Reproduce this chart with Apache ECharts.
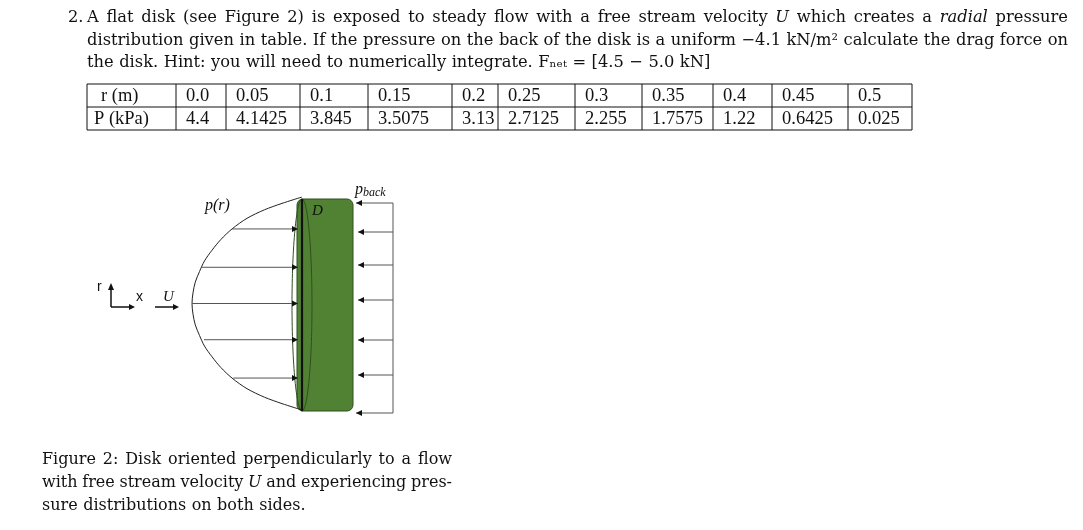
<!DOCTYPE html>
<html>
<head>
<meta charset="utf-8">
<script src="https://cdn.jsdelivr.net/npm/echarts@6/dist/echarts.min.js"></script>
<style>html,body{margin:0;padding:0;background:#fff}#main{width:1083px;height:530px}</style>
</head>
<body>
<div id="main"></div>
<script>
// table data
var rVals = ['0.0', '0.05', '0.1', '0.15', '0.2', '0.25', '0.3', '0.35', '0.4', '0.45', '0.5'];
var pVals = ['4.4', '4.1425', '3.845', '3.5075', '3.13', '2.7125', '2.255', '1.7575', '1.22', '0.6425', '0.025'];
// sketch profile (pressure kPa vs r m)
var curveR = [0.5, 0.47, 0.44, 0.4, 0.35, 0.3, 0.25, 0.2, 0.15, 0.1, 0.05, 0, -0.05, -0.1, -0.15, -0.2, -0.25, -0.3, -0.35, -0.4, -0.44, -0.47, -0.5];
var curveP = [0, 0.8, 1.5, 2.2, 2.8, 3.25, 3.6, 3.9, 4.1, 4.27, 4.36, 4.4, 4.36, 4.27, 4.1, 3.9, 3.6, 3.25, 2.8, 2.2, 1.5, 0.8, 0];
// front arrows
var arrowR = [0.35, 0.17, 0, -0.17, -0.35];
var arrowP = [2.8, 4.04, 4.4, 3.92, 2.75];

var colX = [87, 176, 226, 300, 368, 452, 498, 575, 642, 713, 772, 848, 912];
var rowY = [84, 107, 130];
var serif = '"Liberation Serif", "DejaVu Serif", serif';
var dserif = '"DejaVu Serif", serif';

var ctx = document.createElement('canvas').getContext('2d');
var myChart = echarts.init(document.getElementById('main'));
var g = [];
function txt(x, y, s, opt) {
    var st = { text: s, x: x, y: y, font: '17px ' + serif, fill: '#111', textVerticalAlign: 'middle' };
    for (var k in (opt || {})) st[k] = opt[k];
    g.push({ type: 'text', style: st });
}
// justified line: words spread between x0 and x1, words starting with * are italic
function just(x0, x1, y, s, font) {
    var words = s.split(' ').map(function (w) {
        var it = w.charAt(0) === '*';
        var f = it ? 'italic ' + font : font;
        w = it ? w.slice(1) : w;
        ctx.font = f;
        return { w: w, f: f, width: ctx.measureText(w).width };
    });
    var tot = 0;
    words.forEach(function (o) { tot += o.width; });
    var gap = x1 ? (x1 - x0 - tot) / (words.length - 1) : 5.5;
    var x = x0;
    words.forEach(function (o) {
        txt(x, y, o.w, { font: o.f });
        x += o.width + gap;
    });
}
function line(x1, y1, x2, y2, w, c) {
    g.push({ type: 'line', shape: { x1: x1, y1: y1, x2: x2, y2: y2 }, style: { stroke: c || '#111', lineWidth: w || 1 } });
}
function arrowHead(x, y, dir) {
    g.push({ type: 'polygon', shape: { points: [[x, y], [x - dir * 6, y - 3], [x - dir * 6, y + 3]] }, style: { fill: '#111' } });
}

var pf = '16.3px ' + dserif;
txt(68, 18, '2.', { font: pf });
just(87, 1068, 18, 'A flat disk (see Figure 2) is exposed to steady flow with a free stream velocity *U which creates a *radial pressure', pf);
just(87, 1068, 41, 'distribution given in table. If the pressure on the back of the disk is a uniform \u22124.1 kN/m\u00b2 calculate the drag force on', pf);
just(87, 0, 63, 'the disk. Hint: you will need to numerically integrate. F\u2099\u2091\u209c = [4.5 \u2212 5.0 kN]', pf);

// table
line(colX[0], rowY[0], colX[12], rowY[0]);
line(colX[0], rowY[1], colX[12], rowY[1]);
line(colX[0], rowY[2], colX[12], rowY[2]);
colX.forEach(function (x) { line(x, rowY[0], x, rowY[2]); });
var tf = '18.5px ' + serif;
txt(101, 96, 'r (m)', { font: tf });
txt(94, 119, 'P (kPa)', { font: tf });
for (var i = 0; i < rVals.length; i++) {
    txt(colX[i + 1] + 10, 96, rVals[i], { font: tf });
    txt(colX[i + 1] + 10, 119, pVals[i], { font: tf });
}

// disk
g.push({ type: 'rect', shape: { x: 297, y: 199, width: 56, height: 212, r: [6, 6, 6, 6] }, style: { fill: '#518234', stroke: '#2f4f1e', lineWidth: 1 } });
g.push({ type: 'ellipse', shape: { cx: 302, cy: 305, rx: 10, ry: 106 }, style: { fill: 'none', stroke: '#2f4f1e', lineWidth: 1 } });
line(302, 199, 302, 411, 2.2);
txt(312, 211, 'D', { font: 'italic 15px ' + serif });

// back pressure
line(393, 203, 393, 413, 1, '#555');
[203, 232, 265, 300, 340, 375, 413].forEach(function (y, k) {
    var xe = (k === 0 || k === 6) ? 356 : 358;
    line(393, y, xe, y, 1, '#555');
    arrowHead(xe, y, -1);
});
txt(355, 190, 'p', { font: 'italic 16px ' + serif });
txt(363, 193, 'back', { font: 'italic 12px ' + serif });
txt(205, 206, 'p(r)', { font: 'italic 16px ' + serif });

// axes icon
line(111, 307, 133, 307, 1.5);
arrowHead(135, 307, 1);
line(111, 307, 111, 287, 1.5);
g.push({ type: 'polygon', shape: { points: [[111, 283], [108, 290], [114, 290]] }, style: { fill: '#111' } });
txt(97, 287, 'r', { font: '14px sans-serif' });
txt(136, 297, 'x', { font: '14px sans-serif' });
txt(163, 297, 'U', { font: 'italic 15px ' + serif });
line(155, 307, 175, 307, 1.5);
arrowHead(179, 307, 1);

// caption
var cf = '16px ' + dserif;
just(42, 452, 460, 'Figure 2: Disk oriented perpendicularly to a flow', cf);
just(42, 452, 483, 'with free stream velocity *U and experiencing pres-', cf);
just(42, 0, 506, 'sure distributions on both sides.', cf);

option = {
    animation: false,
    grid: { left: 192, top: 197, width: 110, height: 213 },
    xAxis: { type: 'value', min: 0, max: 4.4, inverse: true, show: false },
    yAxis: { type: 'value', min: -0.5, max: 0.5, show: false },
    graphic: { elements: g },
    series: [
        {
            type: 'line', z: 1,
            data: curveP.map(function (p, i) { return [p, curveR[i]]; }),
            smooth: 0.3, symbol: 'none',
            lineStyle: { color: '#222', width: 1 }
        },
        {
            type: 'custom', z: 5,
            data: arrowP.map(function (p, i) { return [p, arrowR[i]]; }),
            renderItem: function (params, api) {
                var a = api.coord([api.value(0), api.value(1)]);
                var b = api.coord([0, api.value(1)]);
                var xe = b[0] - 4;
                return {
                    type: 'group', children: [
                        { type: 'line', shape: { x1: a[0], y1: a[1], x2: xe, y2: a[1] }, style: { stroke: '#555', lineWidth: 1 } },
                        { type: 'polygon', shape: { points: [[xe, a[1]], [xe - 6, a[1] - 3], [xe - 6, a[1] + 3]] }, style: { fill: '#111' } }
                    ]
                };
            }
        }
    ]
};
myChart.setOption(option);
</script>
</body>
</html>
